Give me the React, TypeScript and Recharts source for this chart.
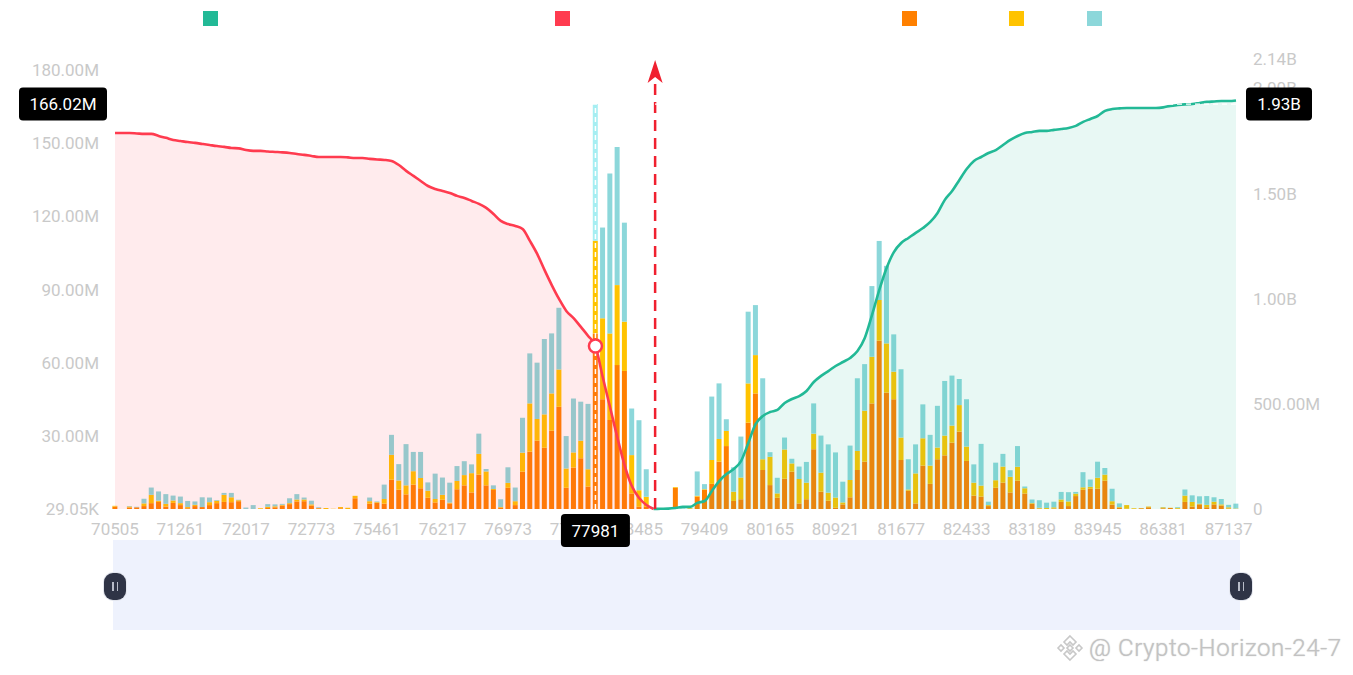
import React from 'react';
import { ComposedChart, Bar, Area, XAxis, YAxis, ReferenceLine, ReferenceDot, Cell } from 'recharts';

// ---- bar values (millions), one entry per price bin ----
const orangeM = [
  1.0, 0, 0.6, 0.7, 1.2, 2.4, 2.9, 1.0, 2.5, 1.6,
  0.3, 1.2, 0.8, 1.6, 2.4, 2.9, 2.8, 3.2, 0, 0,
  0, 0.4, 0.7, 1.4, 2.0, 3.1, 3.2, 1.4, 0.3, 0,
  0, 0.3, 0, 4.4, 0, 2.2, 2.5, 2.2, 12.0, 7.9,
  6.0, 10.0, 8.5, 4.6, 2.7, 3.8, 2.3, 8.1, 9.7, 6.8,
  14.1, 9.7, 7.8, 0.5, 8.7, 1.6, 15.3, 23.5, 28.0, 25.1,
  32.1, 41.9, 8.7, 17.0, 20.8, 9.2, 72.0, 45.0, 36.5, 59.0,
  56.6, 6.4, 0.9, 0.9, 0, 0, 0, 8.7, 0, 0,
  5.1, 7.8, 10.3, 19.4, 25.8, 3.3, 4.0, 35.4, 47.4, 16.0,
  9.8, 4.6, 12.4, 15.3, 2.3, 4.0, 24.5, 7.1, 3.4, 0.5,
  1.9, 4.8, 16.0, 19.4, 43.3, 69.0, 47.7, 45.0, 20.1, 7.5,
  2.3, 17.8, 10.3, 20.4, 22.0, 27.2, 31.7, 19.7, 5.5, 5.1,
  1.2, 8.7, 10.8, 6.8, 11.6, 6.4, 2.1, 0.2, 0, 0.2,
  2.9, 1.2, 5.3, 7.9, 8.3, 8.3, 11.6, 1.8, 0.5, 0.1,
  0, 0.3, 0.7, 0, 0.3, 0.4, 0.1, 2.9, 1.0, 1.9,
  0.7, 1.9, 1.4, 0.2, 0,
];
const yellowM = [
  0.3, 0, 0.4, 0, 1.1, 3.4, 0.5, 1.1, 1.0, 0.8,
  0.5, 0.5, 0, 1.2, 1.0, 2.9, 2.0, 0.4, 0, 0,
  0.3, 0.5, 0.4, 0.3, 0.4, 0.8, 0.7, 0.5, 0.1, 0.4,
  0.1, 0.5, 0.5, 1.0, 0, 1.0, 0.3, 1.9, 10.2, 3.8,
  3.7, 5.5, 4.2, 2.9, 1.4, 2.0, 0.3, 3.4, 4.2, 7.9,
  8.5, 5.7, 0.4, 0.3, 2.0, 1.6, 7.8, 19.8, 8.9, 13.7,
  15.3, 15.3, 7.9, 6.2, 7.2, 7.1, 38.0, 33.2, 35.5, 32.8,
  20.2, 15.7, 6.8, 4.1, 0, 0, 0.2, 0.3, 0, 0.3,
  0.3, 0.3, 9.8, 9.3, 6.2, 3.8, 8.9, 16.1, 15.7, 4.4,
  11.6, 1.8, 12.0, 3.4, 10.0, 6.8, 6.4, 7.8, 3.3, 4.2,
  0.8, 7.1, 7.8, 20.9, 19.1, 16.7, 20.2, 11.3, 9.2, 0.5,
  12.3, 11.2, 7.5, 4.8, 8.1, 7.0, 10.9, 5.9, 5.3, 4.5,
  0.4, 3.1, 6.6, 6.4, 5.7, 2.1, 0.3, 0.3, 0.4, 0.5,
  1.0, 1.9, 1.0, 1.0, 0.8, 4.5, 2.5, 1.4, 0.3, 1.5,
  0.3, 0.1, 0.3, 0, 0.4, 0.1, 0.4, 2.6, 1.9, 0.3,
  1.0, 1.1, 0.5, 0.5, 0.2,
];
const cyanM = [
  0, 0, 0.2, 0.2, 1.9, 3.0, 3.8, 4.0, 2.0, 2.7,
  2.5, 1.4, 4.0, 1.9, 0.3, 0.8, 1.8, 0.2, 0.6, 1.6,
  0, 1.1, 0.8, 0.4, 2.0, 2.2, 0.8, 1.5, 0.3, 0,
  0, 0, 0, 0, 0, 1.5, 0.3, 5.9, 8.2, 6.7,
  16.9, 7.9, 10.7, 3.4, 10.4, 7.1, 8.2, 6.1, 5.7, 3.6,
  8.3, 1.0, 1.5, 3.2, 6.4, 5.6, 14.3, 20.5, 23.1, 30.9,
  24.6, 25.3, 13.3, 22.1, 16.0, 26.8, 56.0, 37.2, 65.6, 56.6,
  40.6, 19.1, 28.7, 11.3, 0, 0, 0, 0, 0.2, 0,
  10.0, 2.1, 26.0, 22.8, 4.8, 10.0, 16.8, 29.4, 20.5, 33.2,
  1.9, 6.4, 4.9, 1.9, 5.1, 8.5, 12.4, 15.2, 19.8, 18.5,
  8.5, 14.1, 29.8, 19.1, 29.0, 24.2, 31.8, 15.3, 28.0, 12.4,
  11.9, 13.9, 12.6, 17.1, 22.4, 20.5, 10.7, 19.4, 7.5, 17.1,
  1.4, 7.2, 5.2, 2.7, 8.5, 0.7, 1.5, 3.1, 2.2, 2.3,
  3.1, 3.8, 0.7, 6.2, 3.0, 6.6, 2.7, 5.1, 1.5, 0,
  0, 0, 0, 0, 0.1, 0, 0.3, 2.5, 2.7, 3.0,
  3.6, 1.8, 2.2, 1.0, 2.0,
];

// ---- cumulative lines (billions) ----
const redCumB = [
  1.788, 1.788, 1.788, 1.786, 1.784, 1.784, 1.774, 1.765, 1.755, 1.750,
  1.745, 1.741, 1.736, 1.731, 1.726, 1.722, 1.717, 1.715, 1.707, 1.703,
  1.703, 1.700, 1.698, 1.696, 1.693, 1.688, 1.684, 1.679, 1.674, 1.674,
  1.674, 1.674, 1.672, 1.669, 1.669, 1.665, 1.662, 1.660, 1.655, 1.636,
  1.608, 1.584, 1.560, 1.536, 1.522, 1.512, 1.503, 1.489, 1.479, 1.465,
  1.451, 1.432, 1.403, 1.370, 1.355, 1.346, 1.332, 1.275, 1.213, 1.137,
  1.065, 0.999, 0.942, 0.908, 0.866, 0.823, 0.775, 0.628, 0.485, 0.342,
  0.209, 0.109, 0.052, 0.019, 0,
];
const greenCumB = [
  0, 0.001, 0.002, 0.005, 0.010, 0.010,
  0.029, 0.038, 0.086, 0.133, 0.166, 0.190, 0.228, 0.314, 0.404, 0.442,
  0.461, 0.471, 0.504, 0.523, 0.537, 0.561, 0.604, 0.633, 0.656, 0.680,
  0.699, 0.718, 0.751, 0.813, 0.923, 1.042, 1.146, 1.222, 1.265, 1.289,
  1.313, 1.336, 1.365, 1.408, 1.470, 1.512, 1.565, 1.617, 1.655, 1.674,
  1.693, 1.707, 1.731, 1.755, 1.774, 1.788, 1.793, 1.798, 1.798, 1.803,
  1.807, 1.812, 1.822, 1.841, 1.855, 1.869, 1.893, 1.902, 1.905, 1.907,
  1.907, 1.907, 1.907, 1.907, 1.910, 1.917, 1.921, 1.924, 1.926, 1.931,
  1.936, 1.938, 1.940, 1.940, 1.943,
];

// ---- axes ----
const xTickIndex = [0, 9, 18, 27, 36, 45, 54, 63, 72, 81, 90, 99, 108, 117, 126, 135, 144, 153];
const xTickLabels = ['70505', '71261', '72017', '72773', '75461', '76217', '76973', '77729', '78485',
  '79409', '80165', '80921', '81677', '82433', '83189', '83945', '86381', '87137'];
const leftTicks = [0, 30, 60, 90, 120, 150, 180];
const leftTickLabels = ['29.05K', '30.00M', '60.00M', '90.00M', '120.00M', '150.00M', '180.00M'];
const rightTicks = [0, 0.5, 1, 1.5, 2, 2.14];
const rightTickLabels = ['0', '500.00M', '1.00B', '1.50B', '2.00B', '2.14B'];
const LEFT_MAX = 184.5;
const RIGHT_MAX = 2.14;

// ---- markers ----
const currentPriceIndex = 74.2;
const hoverIndex = 66;
const hoverPriceLabel = '77981';
const hoverLeftValue = 166.02;
const hoverLeftLabel = '166.02M';
const hoverRightLabel = '1.93B';

const C = {
  green: '#22B996',
  red: '#FF3B4F',
  orange: '#FF8000',
  yellow: '#FFC300',
  cyan: '#8CD7DA',
  cyanHover: '#A6EEF2',
  price: '#F0202F',
  tick: '#c9c9c9',
};

const legendItems = [
  { key: 'green', color: C.green },
  { key: 'red', color: C.red },
  { key: 'orange', color: C.orange },
  { key: 'yellow', color: C.yellow },
  { key: 'cyan', color: C.cyan },
];
const legendLeft = [203, 555, 902, 1009, 1087];

const greenStart = orangeM.length - greenCumB.length;
const data = orangeM.map((o, i) => ({
  i,
  orange: o,
  yellow: yellowM[i],
  cyan: cyanM[i],
  red: i < redCumB.length ? redCumB[i] : null,
  green: i >= greenStart ? greenCumB[i - greenStart] : null,
}));

const FONT = 'Roboto, "DejaVu Sans", sans-serif';

function Badge({ x, y, w, h, text }: { x: number; y: number; w: number; h: number; text: string }) {
  return (
    <g>
      <rect x={x} y={y} width={w} height={h} rx={4} ry={4} fill="#000" />
      <text x={x + w / 2} y={y + h / 2 + 6} textAnchor="middle" fill="#fff" fontSize={17} fontFamily={FONT}>
        {text}
      </text>
    </g>
  );
}

function Handle({ left }: { left: number }) {
  return (
    <div
      style={{
        position: 'absolute', left: left - 11, top: 573, width: 22, height: 27, borderRadius: 9,
        background: '#2F3446', boxShadow: '0 0 0 1px #e3e6ee', display: 'flex', alignItems: 'center',
        justifyContent: 'center', gap: 3,
      }}
    >
      <div style={{ width: 1.5, height: 9, background: '#b8bcc8' }} />
      <div style={{ width: 1.5, height: 9, background: '#b8bcc8' }} />
    </div>
  );
}

export default function App() {
  const xFmt = (v: number) => {
    const k = xTickIndex.indexOf(v);
    return k >= 0 ? xTickLabels[k] : '';
  };
  const lFmt = (v: number) => {
    const k = leftTicks.indexOf(v);
    return k >= 0 ? leftTickLabels[k] : '';
  };
  const rFmt = (v: number) => {
    const k = rightTicks.indexOf(v);
    return k >= 0 ? rightTickLabels[k] : '';
  };
  const tickStyle = { fill: C.tick, fontSize: 17, fontFamily: FONT };

  return (
    <div style={{ position: 'absolute', left: 0, top: 0, width: 1353, height: 675, background: '#fff', overflow: 'hidden' }}>
      {legendItems.map((it, k) => (
        <div key={it.key} style={{ position: 'absolute', left: legendLeft[k], top: 11, width: 15, height: 15, background: it.color }} />
      ))}

      <div style={{ position: 'absolute', left: 113, top: 540, width: 1127, height: 90, background: '#EEF2FD' }} />
      <Handle left={115} />
      <Handle left={1241} />

      <div
        style={{
          position: 'absolute', left: 1056, top: 634, display: 'flex', alignItems: 'center', gap: 5,
          color: '#c2c2c2', fontSize: 24, fontWeight: 300, letterSpacing: 0.6, fontFamily: FONT,
          textShadow: '0 0 2px #fff, 0 0 1px #999',
        }}
      >
        <svg width={28} height={28} viewBox="0 0 28 28">
          <g fill="none" stroke="#c8c8c8" strokeWidth={1.6}>
            <path d="M14 2 L20 8 L17 11 L14 8 L11 11 L8 8 Z" />
            <path d="M14 26 L20 20 L17 17 L14 20 L11 17 L8 20 Z" />
            <path d="M2 14 L5 11 L8 14 L5 17 Z" />
            <path d="M26 14 L23 11 L20 14 L23 17 Z" />
            <path d="M14 11 L17 14 L14 17 L11 14 Z" />
          </g>
        </svg>
        <span>@ Crypto-Horizon-24-7</span>
      </div>

      <div style={{ position: 'absolute', left: 0, top: 0 }}>
        <ComposedChart
          width={1353}
          height={675}
          data={data}
          margin={{ top: 59, right: 17, bottom: 136, left: 15 }}
        >
          <XAxis
            type="number"
            dataKey="i"
            domain={[0, 154]}
            ticks={xTickIndex}
            tickFormatter={xFmt}
            interval={0}
            axisLine={false}
            tickLine={false}
            tickSize={6}
            tickMargin={8}
            height={30}
            tick={tickStyle}
            zIndex={500}
          />
          <YAxis
            yAxisId="left"
            orientation="left"
            width={100}
            domain={[0, LEFT_MAX]}
            ticks={leftTicks}
            tickFormatter={lFmt}
            interval={0}
            axisLine={false}
            tickLine={false}
            tickSize={6}
            tickMargin={10}
            tick={tickStyle}
            zIndex={500}
          />
          <YAxis
            yAxisId="right"
            orientation="right"
            width={100}
            domain={[0, RIGHT_MAX]}
            ticks={rightTicks}
            tickFormatter={rFmt}
            interval={0}
            axisLine={false}
            tickLine={false}
            tickSize={6}
            tickMargin={11}
            tick={{ ...tickStyle, textAnchor: 'start' }}
            zIndex={500}
          />

          <Bar yAxisId="left" dataKey="orange" stackId="liq" fill={C.orange} barSize={5} isAnimationActive={false} zIndex={300} />
          <Bar yAxisId="left" dataKey="yellow" stackId="liq" fill={C.yellow} barSize={5} isAnimationActive={false} zIndex={300} />
          <Bar yAxisId="left" dataKey="cyan" stackId="liq" fill={C.cyan} barSize={5} isAnimationActive={false} zIndex={300}>
            {data.map((d) => (
              <Cell key={d.i} fill={d.i === hoverIndex ? C.cyanHover : C.cyan} />
            ))}
          </Bar>

          <Area
            yAxisId="right"
            type="monotone"
            dataKey="red"
            stroke={C.red}
            strokeWidth={2.6}
            fill={C.red}
            fillOpacity={0.1}
            dot={false}
            activeDot={false}
            isAnimationActive={false}
            zIndex={400}
          />
          <Area
            yAxisId="right"
            type="monotone"
            dataKey="green"
            stroke={C.green}
            strokeWidth={2.6}
            fill={C.green}
            fillOpacity={0.1}
            dot={false}
            activeDot={false}
            isAnimationActive={false}
            zIndex={400}
          />

          <ReferenceLine
            yAxisId="left"
            x={currentPriceIndex}
            stroke={C.price}
            strokeWidth={2.5}
            strokeDasharray="11 7"
            zIndex={460}
            label={(p: any) => {
              const vb = p.viewBox;
              const x = vb.x;
              const y = vb.y;
              return <path d={`M${x},${y + 1} L${x + 7.5},${y + 24} L${x},${y + 18} L${x - 7.5},${y + 24} Z`} fill={C.price} />;
            }}
          />
          <ReferenceLine
            yAxisId="left"
            y={hoverLeftValue}
            stroke="#ffffff"
            strokeWidth={1.2}
            strokeDasharray="5 4"
            zIndex={2500}
            label={(p: any) => {
              const vb = p.viewBox;
              return (
                <g>
                  <Badge x={vb.x - 96} y={vb.y - 16.5} w={88} h={33} text={hoverLeftLabel} />
                  <Badge x={vb.x + vb.width + 10} y={vb.y - 16.5} w={66} h={33} text={hoverRightLabel} />
                </g>
              );
            }}
          />
          <ReferenceLine
            yAxisId="left"
            x={hoverIndex}
            stroke="#ffffff"
            strokeWidth={1.5}
            strokeDasharray="5 4"
            zIndex={2500}
            label={(p: any) => {
              const vb = p.viewBox;
              return <Badge x={vb.x - 34.5} y={vb.y + vb.height + 5} w={69} h={33} text={hoverPriceLabel} />;
            }}
          />
          <ReferenceDot
            yAxisId="right"
            x={hoverIndex}
            y={redCumB[hoverIndex]}
            r={6.5}
            fill="#ffffff"
            stroke={C.red}
            strokeWidth={2.5}
            zIndex={2600}
          />
        </ComposedChart>
      </div>
    </div>
  );
}
